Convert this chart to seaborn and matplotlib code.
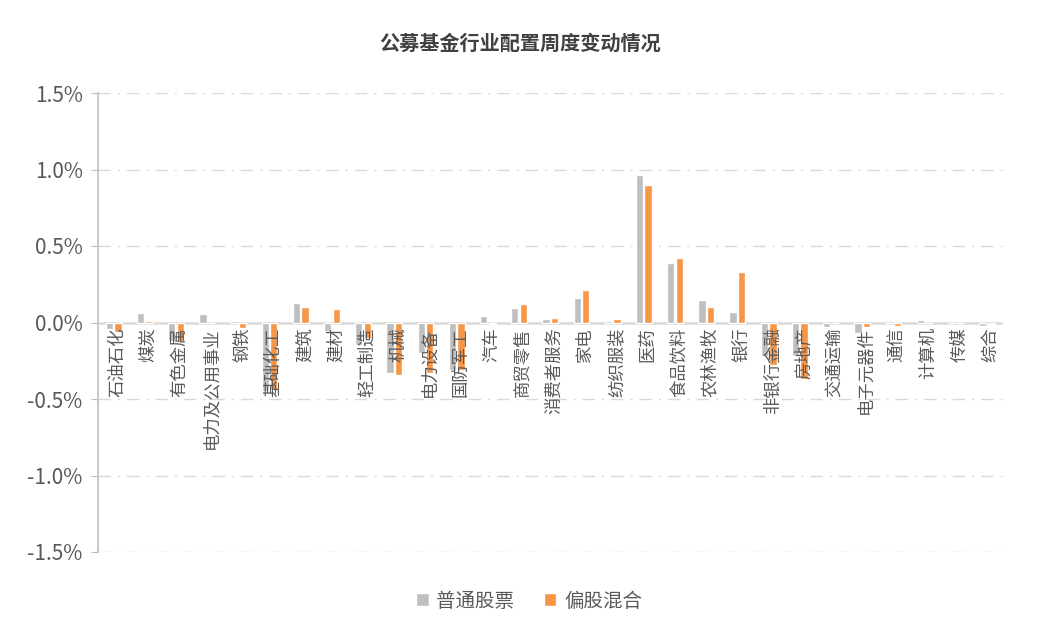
import numpy as np
import pandas as pd
import matplotlib
matplotlib.use("Agg")
import matplotlib.pyplot as plt
import seaborn as sns
from matplotlib.ticker import FuncFormatter

sns.set_style("white")
plt.rcParams['font.family'] = ['Noto Sans CJK SC', 'DejaVu Sans']

industries = ["石油石化", "煤炭", "有色金属", "电力及公用事业", "钢铁", "基础化工", "建筑", "建材",
              "轻工制造", "机械", "电力设备", "国防军工", "汽车", "商贸零售", "消费者服务", "家电",
              "纺织服装", "医药", "食品饮料", "农林渔牧", "银行", "非银行金融", "房地产", "交通运输",
              "电子元器件", "通信", "计算机", "传媒", "综合"]
# 周度变动（%）
stock_fund = [-0.045, 0.065, -0.12, 0.055, 0.01, -0.45, 0.13, -0.055,
              -0.15, -0.33, -0.20, -0.31, 0.04, 0.095, 0.02, 0.16,
              0.012, 0.965, 0.39, 0.15, 0.07, -0.22, -0.22, -0.03,
              -0.07, -0.003, 0.015, 0.0, -0.02]
mixed_fund = [-0.06, 0.01, -0.125, 0.0, -0.035, -0.44, 0.10, 0.085,
              -0.10, -0.34, -0.33, -0.31, -0.01, 0.12, 0.03, 0.21,
              0.02, 0.90, 0.42, 0.10, 0.33, -0.28, -0.37, -0.005,
              -0.03, -0.02, -0.003, -0.003, -0.01]
series_names = ["普通股票", "偏股混合"]
yticks = [-1.5, -1.0, -0.5, 0.0, 0.5, 1.0, 1.5]

df = pd.DataFrame({
    "行业": industries * 2,
    "类型": [series_names[0]] * len(industries) + [series_names[1]] * len(industries),
    "变动": stock_fund + mixed_fund,
})

fig = plt.figure(figsize=(10.58, 6.25), dpi=100)
ax = fig.add_axes([0.0926, 0.1168, 0.855, 0.7344])

sns.barplot(data=df, x="行业", y="变动", hue="类型", order=industries,
            palette=["#BFBFBF", "#F79646"], saturation=1, width=0.55, gap=0.15,
            ax=ax, zorder=3)

ax.set_ylim(-1.5, 1.5)
ax.set_xlim(-0.5, len(industries) - 0.5)
ax.set_yticks(yticks)
ax.yaxis.set_major_formatter(FuncFormatter(lambda v, p: f"{v:.1f}%"))
for y in yticks:
    if y == 0:
        ax.axhline(0, color="#D9D9D9", lw=1.8, zorder=2)
    else:
        ax.axhline(y, color="#D9D9D9", lw=1.0, ls=(0, (9, 5, 1.5, 5)), zorder=1)

ax.set_xlabel("")
ax.set_ylabel("")
ax.set_xticks([])
for i, name in enumerate(industries):
    ax.text(i + 0.12, -0.03, name, rotation=90, ha="center", va="top",
            fontsize=12.5, color="#595959", zorder=4)

for s in ["top", "right", "bottom"]:
    ax.spines[s].set_visible(False)
ax.spines["left"].set_color("#BFBFBF")
ax.spines["left"].set_linewidth(1.2)
ax.tick_params(axis="y", length=5, color="#BFBFBF", labelsize=15, labelcolor="#595959",
               pad=6, left=True)

fig.suptitle("公募基金行业配置周度变动情况", x=0.492, y=0.948, fontsize=14.5,
             fontweight="bold", color="#404040")

ax.legend_.remove()
handles, labels = ax.get_legend_handles_labels()
fig.legend(handles, labels, loc="center", bbox_to_anchor=(0.5, 0.038), ncol=2, frameon=False,
           fontsize=14, handlelength=0.65, handleheight=0.65, handletextpad=0.4,
           columnspacing=1.5, labelcolor="#595959")

fig.savefig("out.png", dpi=100)
